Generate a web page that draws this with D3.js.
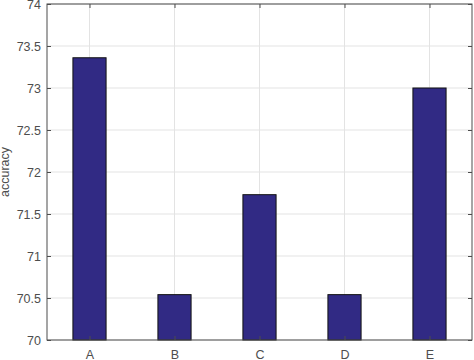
<!DOCTYPE html>
<html>
<head>
<meta charset="utf-8">
<script src="https://cdn.jsdelivr.net/npm/d3@7"></script>
<style>
  html, body { margin: 0; padding: 0; background: #fff; }
  svg text { font-family: "Liberation Sans", Arial, sans-serif; fill: #4d4d4d; }
</style>
</head>
<body>
<svg id="chart" width="474" height="360"></svg>
<script>
// data
var categories = ["A", "B", "C", "D", "E"];
var accuracy = [73.36, 70.54, 71.73, 70.54, 73.0];
var yTicks = [70, 70.5, 71, 71.5, 72, 72.5, 73, 73.5, 74];

var margin = { left: 47, top: 4, right: 2, bottom: 20 },
	iWidth = 474, iHeight = 360,
	x0 = margin.left, x1 = iWidth - margin.right,
	y0 = iHeight - margin.bottom, y1 = margin.top;

var svg = d3.select("#chart");

// bars sit at 1..5 with limits 0.5..5.5, like the original
var x = d3.scaleLinear().domain([0.5, categories.length + 0.5]).range([x0, x1]);
var y = d3.scaleLinear().domain([70, 74]).range([y0, y1]);
var barW = (x(2) - x(1)) * 0.39;

// grid
svg.append("g").selectAll("line.h").data(yTicks).enter().append("line")
	.attr("x1", x0).attr("x2", x1)
	.attr("y1", function(d) { return y(d); }).attr("y2", function(d) { return y(d); })
	.attr("stroke", "#e3e3e3").attr("stroke-width", 1);
svg.append("g").selectAll("line.v").data(categories).enter().append("line")
	.attr("x1", function(d, i) { return x(i + 1); }).attr("x2", function(d, i) { return x(i + 1); })
	.attr("y1", y1).attr("y2", y0)
	.attr("stroke", "#e3e3e3").attr("stroke-width", 1);

// bars
svg.append("g").selectAll("rect").data(accuracy).enter().append("rect")
	.attr("x", function(d, i) { return x(i + 1) - barW / 2; })
	.attr("width", barW)
	.attr("y", function(d) { return y(d); })
	.attr("height", function(d) { return y(70) - y(d); })
	.attr("fill", "#312a84")
	.attr("stroke", "#111")
	.attr("stroke-width", 1);

// axes (ticks inward, box on all sides)
var tickLen = 4;
var yAxis = d3.axisLeft(y).tickValues(yTicks).tickSize(-tickLen).tickPadding(10)
	.tickFormat(function(d) { return d3.format("")(d); });
var xAxis = d3.axisBottom(x).tickValues(d3.range(1, categories.length + 1)).tickSize(-tickLen).tickPadding(10)
	.tickFormat(function(d) { return categories[d - 1]; });

var gy = svg.append("g").attr("transform", "translate(" + x0 + ",0)").call(yAxis);
var gx = svg.append("g").attr("transform", "translate(0," + y0 + ")").call(xAxis);
var gyR = svg.append("g").attr("transform", "translate(" + x1 + ",0)")
	.call(d3.axisRight(y).tickValues(yTicks).tickSize(-tickLen).tickFormat(""));
var gxT = svg.append("g").attr("transform", "translate(0," + y1 + ")")
	.call(d3.axisTop(x).tickValues(d3.range(1, categories.length + 1)).tickSize(-tickLen).tickFormat(""));

[gy, gx, gyR, gxT].forEach(function(g) {
	g.selectAll(".domain").remove();
	g.selectAll(".tick line").attr("stroke", "#4d4d4d");
	g.selectAll("text").attr("font-size", 12.5).attr("fill", "#4d4d4d");
});
gy.selectAll("text").attr("dx", 4);
gx.selectAll("text").attr("dy", "0.71em");

svg.append("rect")
	.attr("x", x0).attr("y", y1).attr("width", x1 - x0).attr("height", y0 - y1)
	.attr("fill", "none").attr("stroke", "#4d4d4d").attr("stroke-width", 1);

svg.append("text")
	.attr("transform", "translate(9," + ((y0 + y1) / 2) + ") rotate(-90)")
	.attr("text-anchor", "middle")
	.attr("font-size", 12.5)
	.text("accuracy");
</script>
</body>
</html>
